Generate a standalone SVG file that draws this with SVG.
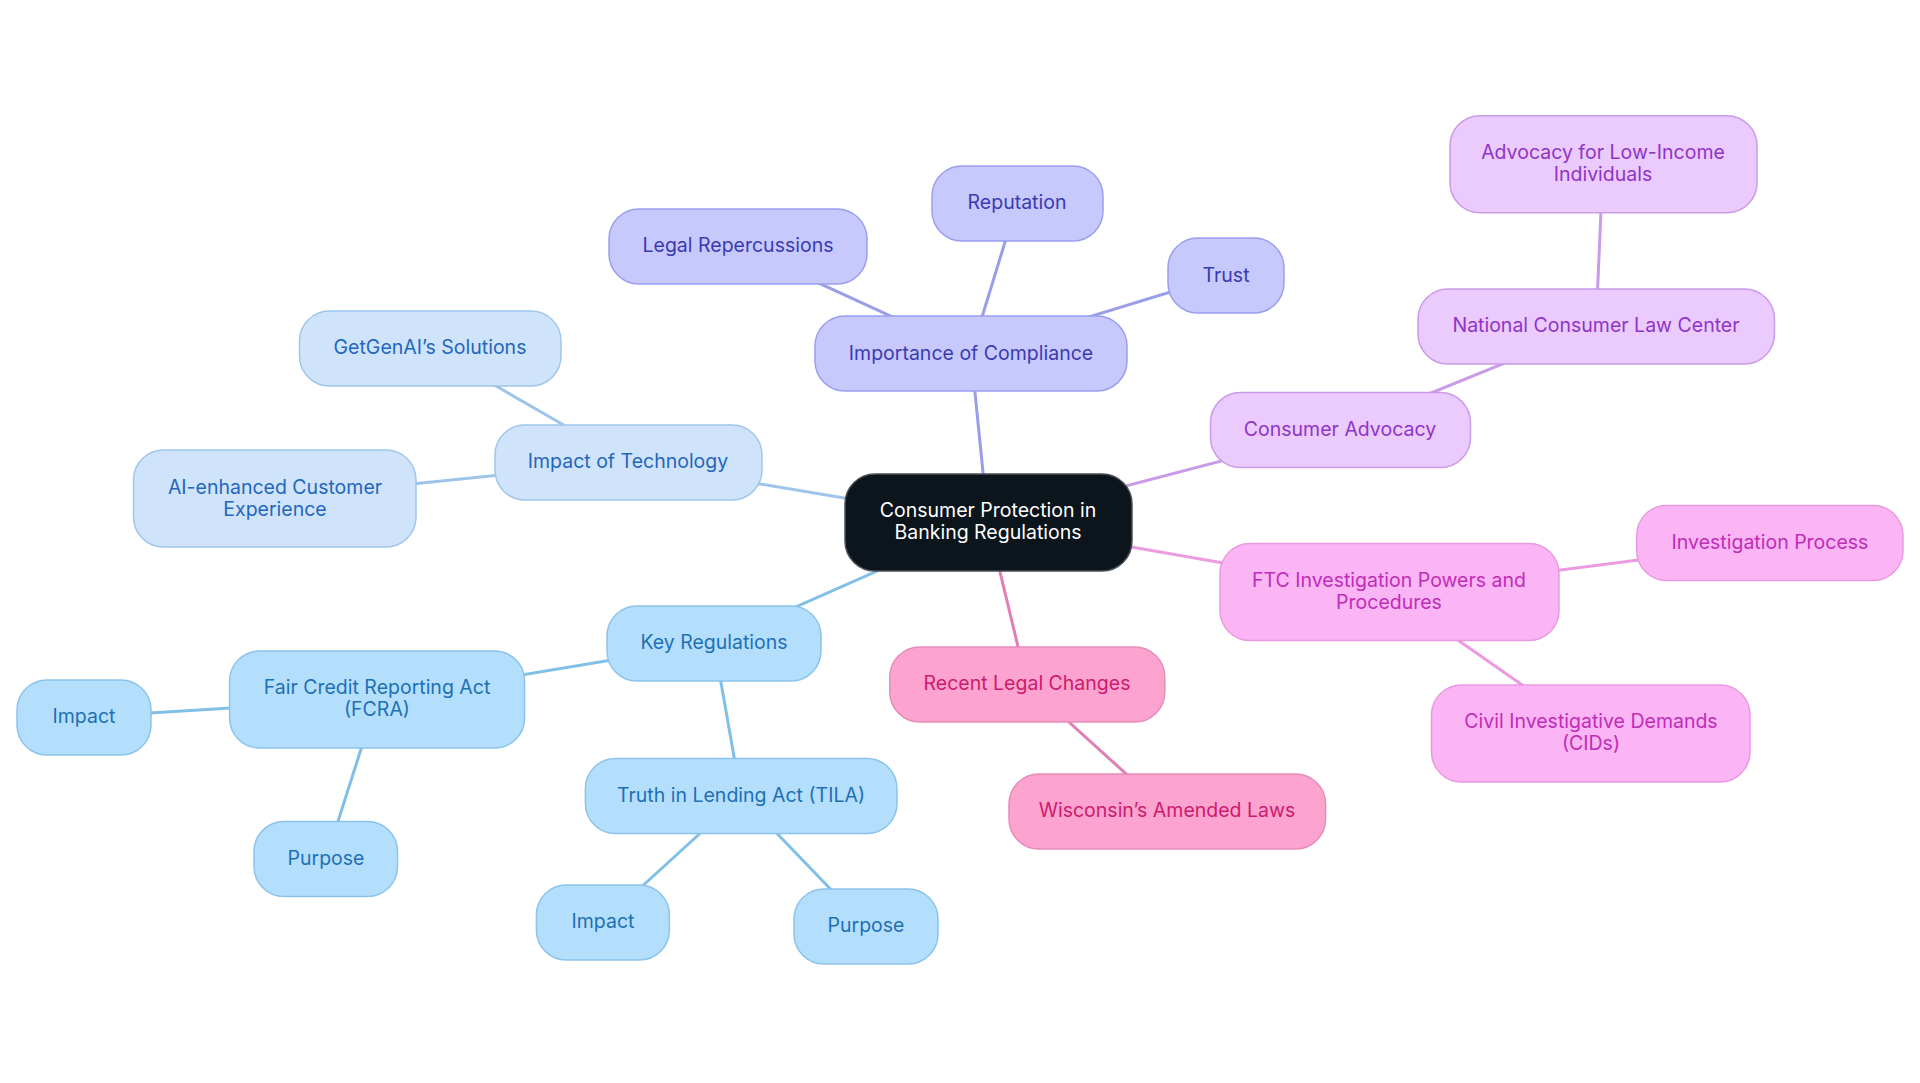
<svg xmlns="http://www.w3.org/2000/svg" width="1920" height="1083" viewBox="0 0 1920 1083">
<style>
text{font-family:Inter,"Noto Sans","Liberation Sans",sans-serif;font-size:19.5px;text-anchor:middle;dominant-baseline:central}
rect{stroke-width:1.5}
.edges line{stroke-width:3;stroke-linecap:round}
.c0 rect{fill:#0c141c;stroke:#4a5058}.c0 text{fill:#ffffff}
.cimp rect{fill:#c7c9fd;stroke:#9b9ef0}.cimp text{fill:#3a3ab2}
.ctec rect{fill:#cfe4fb;stroke:#9fc6ec}.ctec text{fill:#2466bd}
.ckey rect{fill:#b3dffd;stroke:#8cc3ec}.ckey text{fill:#1f6fb5}
.crec rect{fill:#fda3cf;stroke:#e68cb8}.crec text{fill:#cc1a6e}
.cftc rect{fill:#fcb5f4;stroke:#e89ae0}.cftc text{fill:#c02cb8}
.cadv rect{fill:#ebcafd;stroke:#c99be8}.cadv text{fill:#8e34c9}
.eimp{stroke:#9a9ee8}.etec{stroke:#9fc4ea}.ekey{stroke:#80bfe8}.erec{stroke:#e07fb3}.eftc{stroke:#eb9be0}.eadv{stroke:#c99be8}
</style>
<rect x="0" y="0" width="1920" height="1083" fill="#ffffff" stroke="none"/>
<g id="connectors" class="edges">
<line class="eimp" x1="988" y1="522" x2="971" y2="353"/>
<line class="eimp" x1="971" y1="353" x2="738" y2="246"/>
<line class="eimp" x1="971" y1="353" x2="1017" y2="203"/>
<line class="eimp" x1="971" y1="353" x2="1226" y2="275"/>
<line class="etec" x1="988" y1="522" x2="628" y2="462"/>
<line class="etec" x1="628" y1="462" x2="430" y2="348"/>
<line class="etec" x1="628" y1="462" x2="275" y2="498"/>
<line class="ekey" x1="988" y1="522" x2="714" y2="643"/>
<line class="ekey" x1="714" y1="643" x2="377" y2="699"/>
<line class="ekey" x1="377" y1="699" x2="84" y2="717"/>
<line class="ekey" x1="377" y1="699" x2="326" y2="859"/>
<line class="ekey" x1="714" y1="643" x2="741" y2="796"/>
<line class="ekey" x1="741" y1="796" x2="603" y2="922"/>
<line class="ekey" x1="741" y1="796" x2="866" y2="926"/>
<line class="erec" x1="988" y1="522" x2="1027" y2="684"/>
<line class="erec" x1="1027" y1="684" x2="1167" y2="811"/>
<line class="eftc" x1="988" y1="522" x2="1389" y2="592"/>
<line class="eftc" x1="1389" y1="592" x2="1770" y2="543"/>
<line class="eftc" x1="1389" y1="592" x2="1591" y2="733"/>
<line class="eadv" x1="988" y1="522" x2="1340" y2="430"/>
<line class="eadv" x1="1340" y1="430" x2="1596" y2="326"/>
<line class="eadv" x1="1596" y1="326" x2="1603" y2="164"/>
</g>
<g id="n-center" class="c0"><rect x="845" y="474" width="287" height="97" rx="30"/><text x="988" y="510">Consumer Protection in</text><text x="988" y="532">Banking Regulations</text></g>
<g id="n-importance" class="cimp"><rect x="815" y="316" width="312" height="75" rx="30"/><text x="971" y="353">Importance of Compliance</text></g>
<g id="n-legal" class="cimp"><rect x="609" y="209" width="258" height="75" rx="30"/><text x="738" y="245">Legal Repercussions</text></g>
<g id="n-reputation" class="cimp"><rect x="932" y="166" width="171" height="75" rx="30"/><text x="1017" y="202">Reputation</text></g>
<g id="n-trust" class="cimp"><rect x="1168" y="238" width="116" height="75" rx="30"/><text x="1226" y="275">Trust</text></g>
<g id="n-tech" class="ctec"><rect x="495" y="425" width="267" height="75" rx="30"/><text x="628" y="461">Impact of Technology</text></g>
<g id="n-getgenai" class="ctec"><rect x="299.5" y="311" width="261.5" height="75" rx="30"/><text x="430" y="347">GetGenAI’s Solutions</text></g>
<g id="n-ai" class="ctec"><rect x="133.5" y="450" width="282.5" height="97" rx="30"/><text x="275" y="487">AI-enhanced Customer</text><text x="275" y="509">Experience</text></g>
<g id="n-key" class="ckey"><rect x="607" y="606" width="214" height="75" rx="30"/><text x="714" y="642">Key Regulations</text></g>
<g id="n-fcra" class="ckey"><rect x="229.6" y="651" width="295" height="97" rx="30"/><text x="377" y="687">Fair Credit Reporting Act</text><text x="377" y="709">(FCRA)</text></g>
<g id="n-fcra-impact" class="ckey"><rect x="17" y="680" width="134" height="75" rx="30"/><text x="84" y="716">Impact</text></g>
<g id="n-fcra-purpose" class="ckey"><rect x="254" y="821.5" width="143.5" height="75" rx="30"/><text x="326" y="858">Purpose</text></g>
<g id="n-tila" class="ckey"><rect x="585.4" y="758.5" width="311.6" height="75" rx="30"/><text x="741" y="795">Truth in Lending Act (TILA)</text></g>
<g id="n-tila-impact" class="ckey"><rect x="536.4" y="885" width="133" height="75" rx="30"/><text x="603" y="921">Impact</text></g>
<g id="n-tila-purpose" class="ckey"><rect x="794" y="889" width="144" height="75" rx="30"/><text x="866" y="925">Purpose</text></g>
<g id="n-recent" class="crec"><rect x="889.8" y="647" width="275" height="75" rx="30"/><text x="1027" y="683">Recent Legal Changes</text></g>
<g id="n-wisconsin" class="crec"><rect x="1009" y="774" width="316.6" height="75" rx="30"/><text x="1167" y="810">Wisconsin’s Amended Laws</text></g>
<g id="n-ftc" class="cftc"><rect x="1220" y="543.5" width="339" height="97" rx="30"/><text x="1389" y="580">FTC Investigation Powers and</text><text x="1389" y="602">Procedures</text></g>
<g id="n-invproc" class="cftc"><rect x="1636.7" y="505.5" width="266.3" height="75" rx="30"/><text x="1770" y="542">Investigation Process</text></g>
<g id="n-cids" class="cftc"><rect x="1431.5" y="685" width="318.5" height="97" rx="30"/><text x="1591" y="721">Civil Investigative Demands</text><text x="1591" y="743">(CIDs)</text></g>
<g id="n-advocacy" class="cadv"><rect x="1210.5" y="392.6" width="260" height="75" rx="30"/><text x="1340" y="429">Consumer Advocacy</text></g>
<g id="n-nclc" class="cadv"><rect x="1418" y="289" width="356.5" height="75" rx="30"/><text x="1596" y="325">National Consumer Law Center</text></g>
<g id="n-lowincome" class="cadv"><rect x="1450" y="115.7" width="307" height="97" rx="30"/><text x="1603" y="152">Advocacy for Low-Income</text><text x="1603" y="174">Individuals</text></g>
</svg>
